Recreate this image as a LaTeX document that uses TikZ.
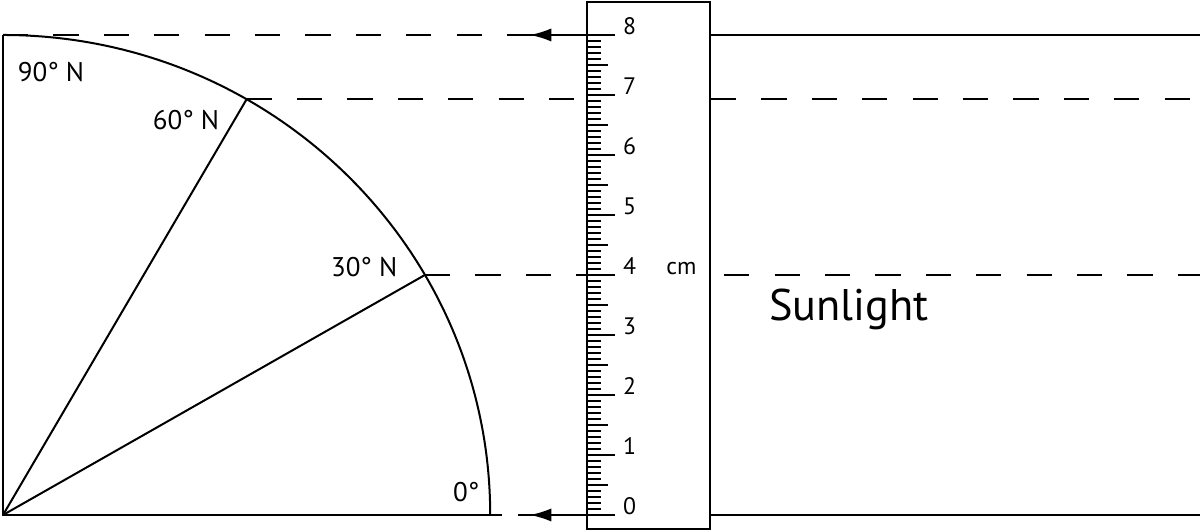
\documentclass[tikz,border=0pt]{standalone}
\usepackage{fontspec}
\setmainfont{PT Sans}
\usetikzlibrary{arrows.meta,calc}
\tikzset{
  ray/.style={line width=0.95pt},
  guide/.style={line width=0.95pt, dash pattern=on 0.42cm off 0.42cm},
  tickline/.style={line width=0.85pt},
  ruler/.style={draw, line width=0.95pt, inner sep=0pt, minimum width=2.05cm, minimum height=8.783cm},
  latlabel/.style={font=\fontsize{12.8}{14}\selectfont, inner sep=0pt},
  scalelabel/.style={font=\fontsize{11.3}{13}\selectfont, inner sep=0pt, anchor=base west},
  pointer/.style={line width=0.95pt, -{Latex[length=0.36cm, width=0.22cm]}}
}
\begin{document}
\begin{tikzpicture}
  \useasboundingbox (-0.05,-0.267) rectangle (19.95,8.583);
  \coordinate (O) at (0,0);
  \coordinate (p90) at (0,8);
  \coordinate (p60) at (60:8.12 and 8);
  \coordinate (p30) at (30:8.12 and 8);
  \coordinate (p0) at (8.32,0);
  \node[ruler] (ruler) at (10.758,4.158) {};
  % quadrant
  \draw[ray] (p90) -- (O) -- (p0);
  \draw[ray] (p90) arc[start angle=90, end angle=0, x radius=8.12, y radius=8];
  \draw[ray] (O) -- (p60);
  \draw[ray] (O) -- (p30);
  \node[latlabel] (n90) at (0.8,7.39) {90° N};
  \node[latlabel] (n60) at (3.05,6.58) {60° N};
  \node[latlabel] (n30) at (6.02,4.13) {30° N};
  \node[latlabel] (n0) at (7.72,0.38) {0°};
  % scale
  \foreach \i in {0,...,80}{
    \pgfmathsetmacro{\ticklen}{mod(\i,10)==0 ? 0.48 : (mod(\i,5)==0 ? 0.37 : 0.25)}
    \coordinate (t) at (0,\i/10);
    \draw[tickline] (ruler.west |- t) -- ++(\ticklen,0);
  }
  \foreach \n in {0,...,8}
    \node[scalelabel] (lbl\n) at (10.33,\n) {\n};
  \node[scalelabel] (unit) at (11.05,4) {cm};
  % guide lines
  \coordinate (a8) at (8.45,8);
  \coordinate (tip8) at (8.78,8);
  \coordinate (a0) at (8.58,0);
  \coordinate (tip0) at (8.78,0);
  \coordinate (e8) at (19.95,8);
  \coordinate (e7) at (p60 -| e8);
  \coordinate (e4) at (p30 -| e8);
  \coordinate (e0) at (19.95,0);
  \draw[guide] (p90) -- (a8);
  \draw[ray] (ruler.west |- p90) -- (a8);
  \draw[pointer] (ruler.west |- p90) -- (tip8);
  \draw[ray] (ruler.east |- p90) -- (e8);
  \draw[guide] (p60) -- (ruler.west |- p60);
  \draw[guide] (ruler.east |- p60) -- (e7);
  \draw[guide] (p30) -- (ruler.west |- p30);
  \draw[guide] ([xshift=0.22cm]ruler.east |- p30) -- (e4);
  \draw[ray] (ruler.west |- O) -- (a0);
  \draw[pointer] (ruler.west |- O) -- (tip0);
  \draw[ray] (ruler.east |- O) -- (e0);
  \node[font=\fontsize{21}{24}\selectfont, inner sep=0pt] (sun) at (14.1,3.42) {Sunlight};
\end{tikzpicture}
\end{document}
